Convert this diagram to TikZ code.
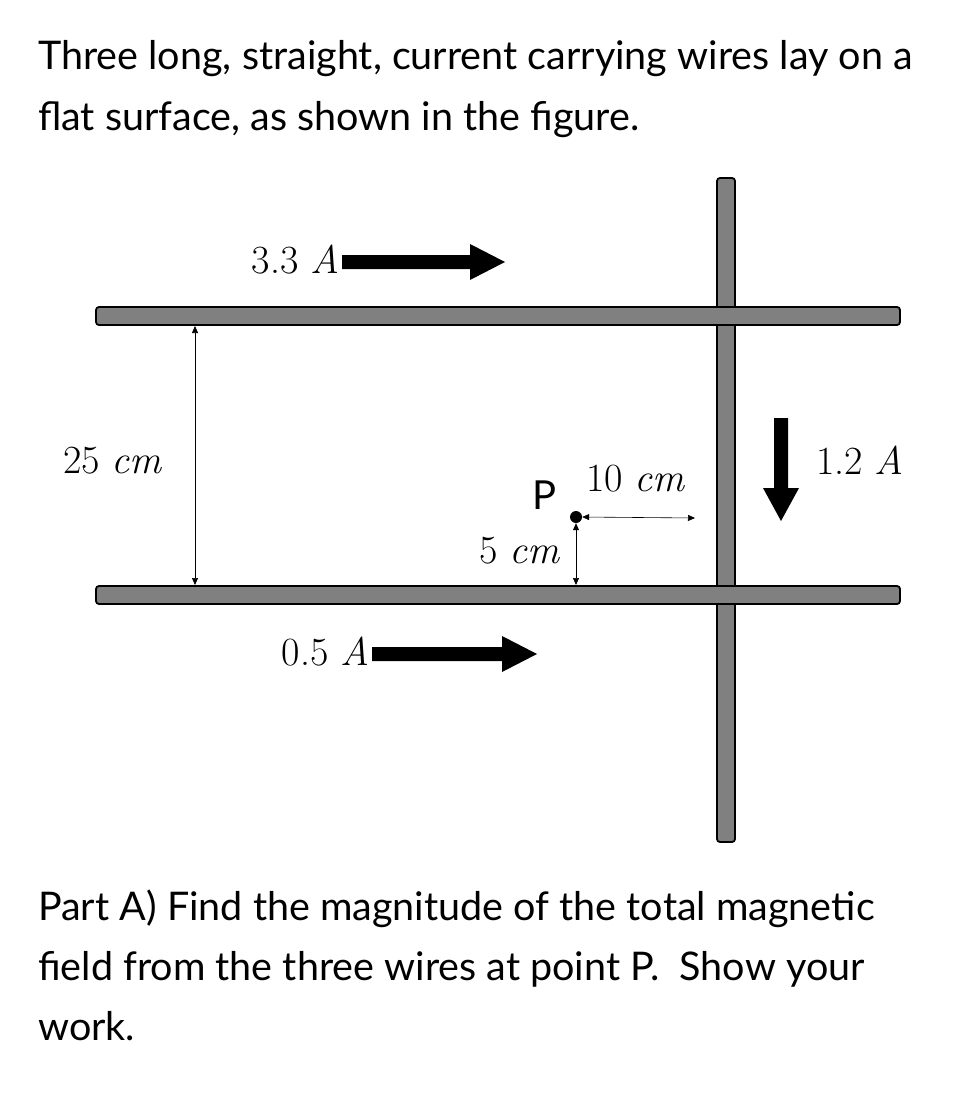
\documentclass[tikz,border=0pt]{standalone}
\usepackage{fontspec}
\newfontfamily\lato{Lato}
\usetikzlibrary{arrows.meta}
\begin{document}
\begin{tikzpicture}[x=1pt,y=-1pt,
  wire/.style={draw=black,fill=black!50,line width=1.8pt,rounded corners=3pt},
  body/.style={font=\lato\fontsize{39.5}{60}\selectfont,anchor=base west,inner sep=0},
  lab/.style={font=\fontsize{40}{44}\selectfont,inner sep=0},
  dim/.style={line width=0.6pt,{Triangle[length=7pt,width=6pt]}-{Triangle[length=7pt,width=6pt]}}]
\useasboundingbox (0,0) rectangle (962,1108);
\node[body] (t1) at (38,70) {Three long, straight, current carrying wires lay on a};
\node[body] (t2) at (38,130) {flat surface, as shown in the figure.};
\node[body] (q1) at (38,920) {Part A) Find the magnitude of the total magnetic};
\node[body] (q2) at (38,980) {field from the three wires at point P.\ \ Show your};
\node[body] (q3) at (38,1040) {work.};
% vertical wire
\draw[wire] (717,178) rectangle (735,842);
% horizontal wires
\draw[wire] (96,307) rectangle (900,325);
\draw[wire] (96,586) rectangle (900,604);
% current arrows
\fill (342,255) -- (470,255) -- (470,244) -- (505,262) -- (470,280) -- (470,269) -- (342,269) -- cycle;
\node[lab,anchor=east] (i1) at (340,260) {3.3 \textit{A}};
\fill (372,647) -- (502,647) -- (502,636) -- (537,654) -- (502,672) -- (502,661) -- (372,661) -- cycle;
\node[lab,anchor=east] (i2) at (370,652) {0.5 \textit{A}};
\fill (774,418) -- (788,418) -- (788,488) -- (799,488) -- (781,521) -- (763,488) -- (774,488) -- cycle;
\node[lab] (i3) at (860,460) {1.2 \textit{A}};
% distance 25 cm
\coordinate (d1) at (195,326);
\coordinate (d2) at (195,585);
\draw[dim] (d1) -- (d2);
\node[lab] (l25) at (113,461) {25 \textit{cm}};
% point P
\node[circle,fill=black,inner sep=0,minimum size=12pt] (P) at (576,517) {};
\node[font=\lato\fontsize{40}{44}\selectfont,inner sep=0] (Pl) at (545,495) {P};
\coordinate (r) at (695,518);
\draw[dim] (P.east) -- (r);
\node[lab] (l10) at (636,479) {10 \textit{cm}};
\coordinate (b) at (576,585);
\draw[dim] (P.south) -- (b);
\node[lab] (l5) at (520,551) {5 \textit{cm}};
\end{tikzpicture}
\end{document}
